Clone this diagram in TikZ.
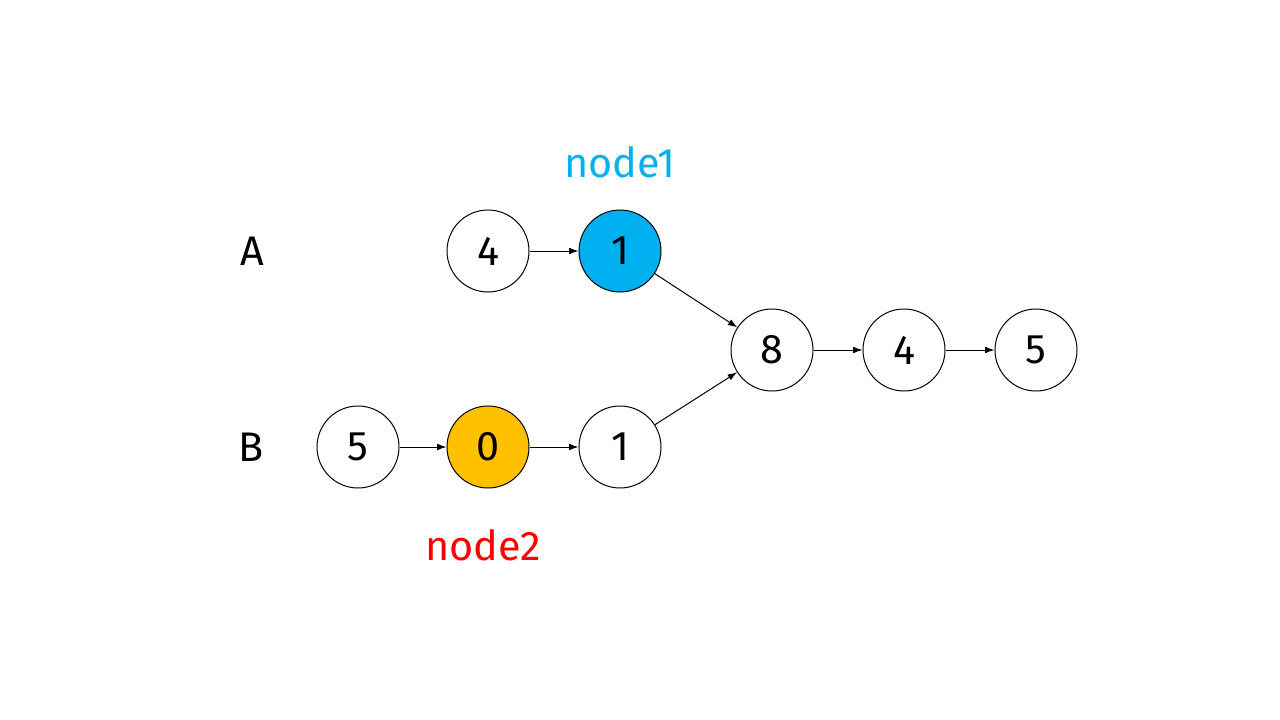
\documentclass[tikz,border=0pt]{standalone}
\usepackage{fontspec}
\setmainfont{Fira Sans}
\usetikzlibrary{arrows.meta}
\definecolor{nblue}{HTML}{00B0F0}
\definecolor{ngold}{HTML}{FFC000}
\definecolor{nred}{HTML}{FF0000}
\tikzset{
  lnode/.style={circle,draw=black,line width=0.75pt,minimum size=61.5pt,inner sep=0pt,font=\fontsize{31}{34}\selectfont,fill=white},
  lab/.style={font=\fontsize{31}{34}\selectfont},
  link/.style={-{Latex[length=7pt,width=5pt]},line width=0.75pt}
}
\begin{document}
\begin{tikzpicture}[x=0.75pt,y=-0.75pt]
\useasboundingbox (0,0) rectangle (1280,720);
\node[lab] (la) at (252,251) {A};
\node[lab] (lb) at (251,447) {B};
\node[lnode] (a4) at (488,251) {4};
\node[lnode,fill=nblue] (a1) at (620,251) {1};
\node[lnode] (b5) at (358,447) {5};
\node[lnode,fill=ngold] (b0) at (488,447) {0};
\node[lnode] (b1) at (620,447) {1};
\node[lnode] (c8) at (772,350) {8};
\node[lnode] (c4) at (904,350) {4};
\node[lnode] (c5) at (1036,350) {5};
\node[lab,text=nblue] (n1) at (620,162) {node1};
\node[lab,text=nred] (n2) at (483,545) {node2};
\draw[link] (a4) -- (a1);
\draw[link] (a1) -- (c8);
\draw[link] (b5) -- (b0);
\draw[link] (b0) -- (b1);
\draw[link] (b1) -- (c8);
\draw[link] (c8) -- (c4);
\draw[link] (c4) -- (c5);
\end{tikzpicture}
\end{document}
